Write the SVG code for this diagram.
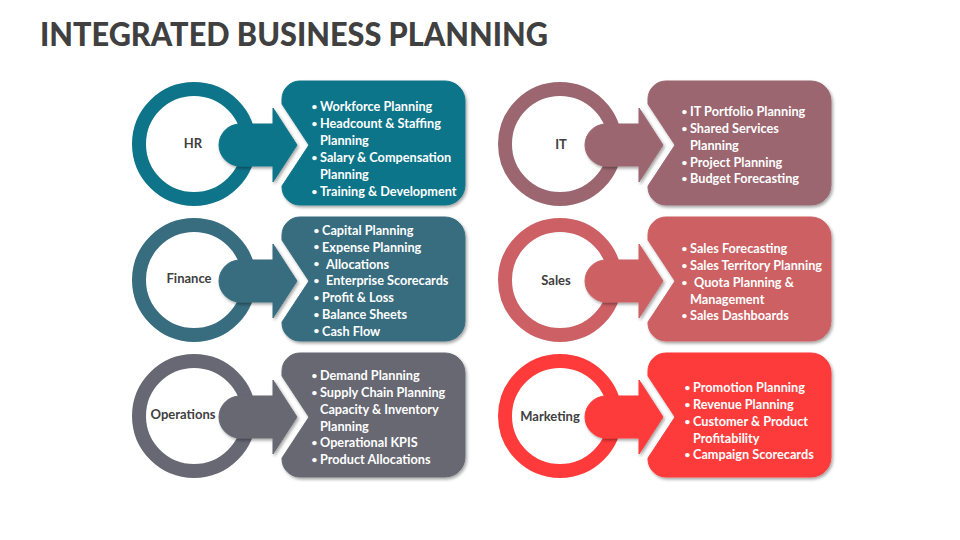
<svg xmlns="http://www.w3.org/2000/svg" width="960" height="540" viewBox="0 0 960 540">
<defs>
<filter id="sh" x="-20%" y="-20%" width="140%" height="140%">
<feDropShadow dx="1.5" dy="2" stdDeviation="1.8" flood-color="#000" flood-opacity="0.35"/>
</filter>
<g id="shape">
<circle class="ring" cx="0" cy="0" r="55" fill="none" stroke-width="14"/>
<g filter="url(#sh)">
<circle cx="46" cy="1" r="21"/>
<rect x="46" y="-20" width="34" height="42"/>
<polygon points="79,-36 103,1 79,38"/>
</g>
<path filter="url(#sh)" d="M106,-63 H251 A20 20 0 0 1 271,-43 V41 A20 20 0 0 1 251,61 H106 A18 18 0 0 1 88,43 V42 L115,1 L88,-40 V-45 A18 18 0 0 1 106,-63 Z"/>
</g>
</defs>
<style>
.t{font-family:Lato,"Open Sans","Liberation Sans",sans-serif;font-weight:bold;font-size:12.7px;fill:#ffffff}
.b{font-size:10px;text-anchor:middle}
.lb{font-family:Lato,"Open Sans","Liberation Sans",sans-serif;font-weight:bold;font-size:13px;fill:#404040;text-anchor:middle}
.title{font-family:Lato,"Open Sans","Liberation Sans",sans-serif;font-weight:900;font-size:32px;fill:#404040}
.hr{fill:#0e7489;stroke:#0e7489}
.fin{fill:#386d7f;stroke:#386d7f}
.ops{fill:#676873;stroke:#676873}
.it{fill:#9b6670;stroke:#9b6670}
.sal{fill:#cc6064;stroke:#cc6064}
.mkt{fill:#fe3a3a;stroke:#fe3a3a}
.hr *,.fin *,.ops *,.it *,.sal *,.mkt *{stroke:none}
.hr .ring{stroke:#0e7489}.fin .ring{stroke:#386d7f}.ops .ring{stroke:#676873}
.it .ring{stroke:#9b6670}.sal .ring{stroke:#cc6064}.mkt .ring{stroke:#fe3a3a}
</style>
<rect width="960" height="540" fill="#ffffff"/>
<text class="title" x="40" y="46" textLength="508" lengthAdjust="spacingAndGlyphs">INTEGRATED BUSINESS PLANNING</text>

<g id="connectors"></g>

<g id="node-hr" transform="translate(194,145)">
<use href="#shape" class="hr" transform="translate(0,-1)"/>
<text class="lb" x="-1" y="3">HR</text>
<text class="t" y="-34"><tspan class="b" x="120.5" dy="-1.5">•</tspan><tspan x="126" dy="1.5">Workforce Planning</tspan></text>
<text class="t" y="-17"><tspan class="b" x="120.5" dy="-1.5">•</tspan><tspan x="126" dy="1.5">Headcount &amp; Staffing</tspan></text>
<text class="t" y="0" x="126">Planning</text>
<text class="t" y="17"><tspan class="b" x="120.5" dy="-1.5">•</tspan><tspan x="126" dy="1.5">Salary &amp; Compensation</tspan></text>
<text class="t" y="34" x="126">Planning</text>
<text class="t" y="51"><tspan class="b" x="120.5" dy="-1.5">•</tspan><tspan x="126" dy="1.5">Training &amp; Development</tspan></text>
</g>

<g id="node-finance" transform="translate(194,281)">
<use href="#shape" class="fin" transform="translate(0,-1)"/>
<text class="lb" x="-5" y="2">Finance</text>
<text class="t" y="-46"><tspan class="b" x="122.5" dy="-1.5">•</tspan><tspan x="128" dy="1.5">Capital Planning</tspan></text>
<text class="t" y="-29.2"><tspan class="b" x="122.5" dy="-1.5">•</tspan><tspan x="128" dy="1.5">Expense Planning</tspan></text>
<text class="t" y="-12.4"><tspan class="b" x="122.5" dy="-1.5">•</tspan><tspan x="132" dy="1.5">Allocations</tspan></text>
<text class="t" y="4.4"><tspan class="b" x="122.5" dy="-1.5">•</tspan><tspan x="132" dy="1.5">Enterprise Scorecards</tspan></text>
<text class="t" y="21.2"><tspan class="b" x="122.5" dy="-1.5">•</tspan><tspan x="128" dy="1.5">Profit &amp; Loss</tspan></text>
<text class="t" y="38"><tspan class="b" x="122.5" dy="-1.5">•</tspan><tspan x="128" dy="1.5">Balance Sheets</tspan></text>
<text class="t" y="54.8"><tspan class="b" x="122.5" dy="-1.5">•</tspan><tspan x="128" dy="1.5">Cash Flow</tspan></text>
</g>

<g id="node-operations" transform="translate(194,417)">
<use href="#shape" class="ops" transform="translate(0,-1)"/>
<text class="lb" x="-11" y="2">Operations</text>
<text class="t" y="-37"><tspan class="b" x="120.5" dy="-1.5">•</tspan><tspan x="126" dy="1.5">Demand Planning</tspan></text>
<text class="t" y="-20"><tspan class="b" x="120.5" dy="-1.5">•</tspan><tspan x="126" dy="1.5">Supply Chain Planning</tspan></text>
<text class="t" y="-3" x="126">Capacity &amp; Inventory</text>
<text class="t" y="14" x="126">Planning</text>
<text class="t" y="30"><tspan class="b" x="120.5" dy="-1.5">•</tspan><tspan x="126" dy="1.5">Operational KPIS</tspan></text>
<text class="t" y="47"><tspan class="b" x="120.5" dy="-1.5">•</tspan><tspan x="126" dy="1.5">Product Allocations</tspan></text>
</g>

<g id="node-it" transform="translate(560,145)">
<use href="#shape" class="it" transform="translate(0,-1)"/>
<text class="lb" x="1" y="4">IT</text>
<text class="t" y="-29"><tspan class="b" x="124.5" dy="-1.5">•</tspan><tspan x="130" dy="1.5">IT Portfolio Planning</tspan></text>
<text class="t" y="-12"><tspan class="b" x="124.5" dy="-1.5">•</tspan><tspan x="130" dy="1.5">Shared Services</tspan></text>
<text class="t" y="5" x="130">Planning</text>
<text class="t" y="22"><tspan class="b" x="124.5" dy="-1.5">•</tspan><tspan x="130" dy="1.5">Project Planning</tspan></text>
<text class="t" y="38"><tspan class="b" x="124.5" dy="-1.5">•</tspan><tspan x="130" dy="1.5">Budget Forecasting</tspan></text>
</g>

<g id="node-sales" transform="translate(560,281)">
<use href="#shape" class="sal" transform="translate(0,-1)"/>
<text class="lb" x="-4" y="4">Sales</text>
<text class="t" y="-28"><tspan class="b" x="124.5" dy="-1.5">•</tspan><tspan x="130" dy="1.5">Sales Forecasting</tspan></text>
<text class="t" y="-11"><tspan class="b" x="124.5" dy="-1.5">•</tspan><tspan x="130" dy="1.5">Sales Territory Planning</tspan></text>
<text class="t" y="6"><tspan class="b" x="124.5" dy="-1.5">•</tspan><tspan x="134" dy="1.5">Quota Planning &amp;</tspan></text>
<text class="t" y="23" x="130">Management</text>
<text class="t" y="39"><tspan class="b" x="124.5" dy="-1.5">•</tspan><tspan x="130" dy="1.5">Sales Dashboards</tspan></text>
</g>

<g id="node-marketing" transform="translate(560,417)">
<use href="#shape" class="mkt" transform="translate(0,-1)"/>
<text class="lb" x="-10" y="4">Marketing</text>
<text class="t" y="-25"><tspan class="b" x="127.5" dy="-1.5">•</tspan><tspan x="133" dy="1.5">Promotion Planning</tspan></text>
<text class="t" y="-8"><tspan class="b" x="127.5" dy="-1.5">•</tspan><tspan x="133" dy="1.5">Revenue Planning</tspan></text>
<text class="t" y="9"><tspan class="b" x="127.5" dy="-1.5">•</tspan><tspan x="133" dy="1.5">Customer &amp; Product</tspan></text>
<text class="t" y="26" x="133">Profitability</text>
<text class="t" y="42"><tspan class="b" x="127.5" dy="-1.5">•</tspan><tspan x="133" dy="1.5">Campaign Scorecards</tspan></text>
</g>
</svg>
